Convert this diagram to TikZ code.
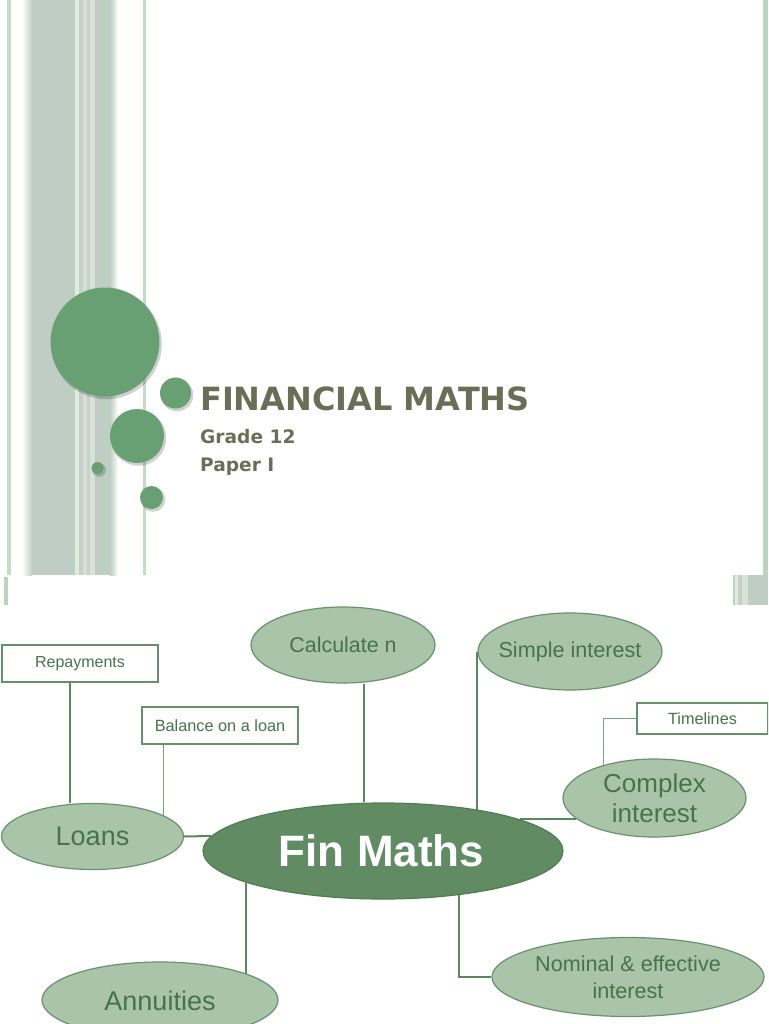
\documentclass[tikz,border=0pt]{standalone}
\usepackage{fontspec}
\newfontfamily\arialf{Liberation Sans}
\newfontfamily\djv{DejaVu Sans}
\usetikzlibrary{shapes.geometric,backgrounds}
\definecolor{stripeG}{RGB}{195,220,197}
\definecolor{bandA}{RGB}{192,205,196}
\definecolor{bandB}{RGB}{184,212,187}
\definecolor{bandC}{RGB}{224,235,226}
\definecolor{bandD}{RGB}{198,208,200}
\definecolor{bandE}{RGB}{213,223,215}
\definecolor{bandF}{RGB}{197,211,198}
\definecolor{bandH}{RGB}{216,226,218}
\definecolor{edgeG}{RGB}{188,212,188}
\definecolor{dotG}{RGB}{105,160,115}
\definecolor{titleC}{RGB}{107,110,87}
\definecolor{ellF}{RGB}{170,196,170}
\definecolor{ellB}{RGB}{105,145,108}
\definecolor{txtG}{RGB}{70,115,76}
\definecolor{finF}{RGB}{96,139,99}
\definecolor{finB}{RGB}{80,125,84}
\definecolor{lnkA}{RGB}{90,135,93}
\definecolor{lnkB}{RGB}{120,160,122}
\definecolor{boxB}{RGB}{100,145,104}
\begin{document}
\begin{tikzpicture}[x=1pt,y=-1pt,
  lell/.style={ellipse, draw=ellB, fill=ellF, line width=1.2pt, inner sep=0pt},
  ltxt/.style={text=txtG, align=center, inner sep=0pt},
  rbox/.style={rectangle, draw=boxB, fill=white, line width=1.2pt, inner sep=0pt},
  linkA/.style={draw=lnkA, line width=2pt},
  linkB/.style={draw=lnkB, line width=1pt},
  titletxt/.style={anchor=base west, text=titleC, inner sep=0pt}
]
\useasboundingbox (0,0) rectangle (768,1024);
\begin{pgfonlayer}{background}
\fill[white] (0,0) rectangle (768,1024);
\end{pgfonlayer}
\clip (0,0) rectangle (768,1024);

% ---- top slide stripes ----
\fill[stripeG] (7,0) rectangle (11,575);
\shade[left color=white, right color=bandA] (22,0) rectangle (32,575);
\fill[bandA] (32,0) rectangle (73,575);
\fill[bandB] (73,0) rectangle (75,575);
\fill[bandC] (75,0) rectangle (79,575);
\fill[bandD] (79,0) rectangle (83,575);
\fill[bandE] (83,0) rectangle (87,575);
\fill[bandF] (87,0) rectangle (90,575);
\fill[bandH] (90,0) rectangle (95,575);
\fill[bandA] (95,0) rectangle (110,575);
\fill[bandB] (105,0) rectangle (107,575);
\shade[left color=bandA, right color=white] (110,0) rectangle (118,575);
\fill[stripeG] (143,0) rectangle (146,575);
\fill[edgeG] (763,0) rectangle (768,575);

% ---- bottom slide remnants ----
\fill[edgeG] (4,577) rectangle (8,605);
\fill[bandB] (733,575) rectangle (735,605);
\fill[bandC] (735,575) rectangle (738,605);
\fill[bandD] (738,575) rectangle (742,605);
\fill[bandH] (742,575) rectangle (748,605);
\fill[bandB] (748,575) rectangle (750,605);
\fill[bandA] (750,575) rectangle (768,605);

% ---- circles ----
\foreach \cx/\cy/\r in {105/342/54.5, 175.5/393/15.5, 137/436/27, 97.5/468/6, 151.5/497.5/11.5}{
  \fill[black, opacity=0.18] (\cx+1.5,\cy+2) circle[radius=\r+0.8];
  \fill[dotG] (\cx,\cy) circle[radius=\r];
}

% ---- title ----
\node[titletxt, font=\djv\bfseries\fontsize{32}{36}\selectfont] (title) at (200,410) {FINANCIAL MATHS};
\node[titletxt, font=\djv\bfseries\fontsize{18.6}{22}\selectfont] (grade) at (200,443) {Grade 12};
\node[titletxt, font=\djv\bfseries\fontsize{18.6}{22}\selectfont] (paper) at (200,471) {Paper I};

% ---- mind map nodes ----
\node[rbox, minimum width=156pt, minimum height=37pt] (rep) at (80,663.5) {};
\node[ltxt, font=\arialf\fontsize{16}{19}\selectfont] (reptxt) at (rep) {Repayments};
\node[rbox, minimum width=156pt, minimum height=37pt] (bal) at (220,725.5) {};
\node[ltxt, font=\arialf\fontsize{16.3}{19}\selectfont] (baltxt) at (bal) {Balance on a loan};
\node[rbox, minimum width=131pt, minimum height=31pt] (time) at (702.5,718.5) {};
\node[ltxt, font=\arialf\fontsize{16.2}{19}\selectfont] (timetxt) at (time) {Timelines};

\node[lell, minimum width=182pt, minimum height=66pt] (loans) at (92.5,836.5) {};
\node[ltxt, font=\arialf\fontsize{27}{31}\selectfont] (loanstxt) at (loans) {Loans};
\node[lell, minimum width=184pt, minimum height=76pt] (calc) at (343,645) {};
\node[ltxt, font=\arialf\fontsize{21.4}{25}\selectfont] (calctxt) at (calc) {Calculate n};
\node[lell, minimum width=184pt, minimum height=77pt] (simple) at (570,651.5) {};
\node[ltxt, font=\arialf\fontsize{21.6}{25}\selectfont] (simpletxt) at (simple) {Simple interest};
\node[lell, minimum width=183pt, minimum height=78pt] (cplx) at (654.5,798) {};
\node[ltxt, font=\arialf\fontsize{26}{30}\selectfont] (cplxtxt) at (cplx) {Complex\\interest};
\node[lell, minimum width=236pt, minimum height=76pt] (ann) at (160,1000) {};
\node[ltxt, font=\arialf\fontsize{27}{31}\selectfont] (anntxt) at (160,1001) {Annuities};
\node[lell, minimum width=272pt, minimum height=79pt] (nom) at (628,977) {};
\node[ltxt, font=\arialf\fontsize{21.6}{27}\selectfont] (nomtxt) at (nom) {Nominal \& effective\\interest};
\node[ellipse, draw=finB, fill=finF, line width=1.2pt, inner sep=0pt, minimum width=360pt, minimum height=96pt] (fin) at (383,851) {};
\node[text=white, inner sep=0pt, font=\arialf\bfseries\fontsize{44}{50}\selectfont] (fintxt) at (381.5,851) {Fin Maths};

% ---- connectors ----
\begin{pgfonlayer}{background}
\draw[linkA] ([xshift=-10pt]rep.south) -- ([xshift=-10pt]rep.south |- loans.north);
\draw[linkB] ([xshift=-57pt]bal.south) -- ([xshift=-57pt]bal.south |- loans.16.5);
\draw[linkA] (loans.east) -- (fin.175);
\draw[linkA] ([xshift=21pt]calc.south) -- ([xshift=21pt]calc.south |- fin.north);
\draw[linkA] (simple.west) -- (simple.west |- fin.23.2);
\draw[linkA] (fin.13.4) -- (fin.13.4 -| cplx.195.3);
\draw[linkB] (time.west) -| (cplx.147.2);
\draw[linkA] (fin.193.6) -- (fin.193.6 |- ann.15.3);
\draw[linkA] (fin.330.6) |- (nom.west);
\end{pgfonlayer}
\end{tikzpicture}
\end{document}
